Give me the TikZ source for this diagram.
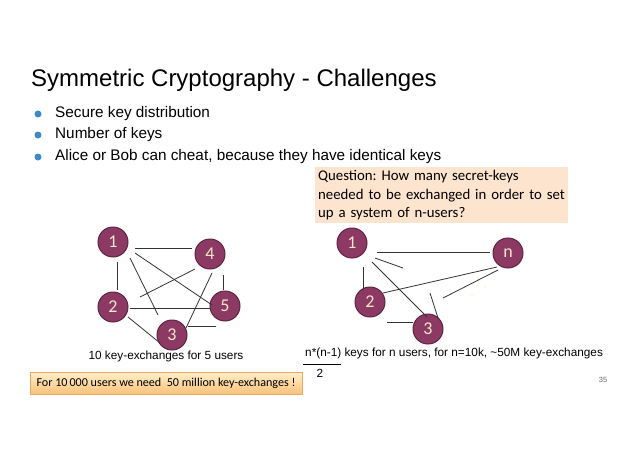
\documentclass[tikz,border=0pt]{standalone}
\usepackage{fontspec}
\setmainfont{Liberation Sans}
\newfontfamily\calfont{Carlito}
\frenchspacing
\definecolor{nodepurple}{HTML}{8C3A64}
\definecolor{nodeedge}{HTML}{5E2443}
\definecolor{nodetext}{HTML}{F5E6C8}
\definecolor{qbox}{HTML}{FCE4CF}
\definecolor{bullet}{HTML}{3C8BC8}
\definecolor{boxtop}{HTML}{FFEFC9}
\definecolor{boxbot}{HTML}{F9C27A}
\definecolor{boxedge}{HTML}{F0A860}
\begin{document}
\begin{tikzpicture}[x=1pt,y=-1pt,
  user/.style={circle,fill=nodepurple,draw=nodeedge,line width=1pt,minimum size=30pt,inner sep=0pt,text=nodetext,font=\calfont\fontsize{18}{18}\selectfont},
  edge/.style={line width=0.8pt,black!80},
  bul/.style={anchor=west,font=\fontsize{15.3}{17}\selectfont}]
\useasboundingbox (0,0) rectangle (638,451);
\fill[white] (0,0) rectangle (638,451);
\node[anchor=west,font=\fontsize{24}{26}\selectfont,inner sep=0pt] (title) at (31,80) {Symmetric Cryptography - Challenges};
\foreach \y/\t/\n in {114/Secure key distribution/b1,135/Number of keys/b2,157/{Alice or Bob can cheat, because they have identical keys}/b3}{
  \fill[bullet] (38,\y) circle (3.5pt);
  \node[bul,inner sep=0pt] (\n) at (55,\y) {\t};
}
\node[fill=qbox,anchor=north west,minimum width=253pt,minimum height=56pt,text width=247pt,align=left,inner sep=3pt,font=\calfont\fontsize{14.8}{18.5}\selectfont] (q) at (315,167) {Question: How many secret-keys\\ needed to be exchanged in order to set\\ up a system of n-users?};
% left graph
\node[user] (l1) at (113,242) {1};
\node[user] (l4) at (210,254) {4};
\node[user] (l2) at (113,307) {2};
\node[user] (l5) at (225,306) {5};
\node[user] (l3) at (172,335) {3};
\draw[edge] (135,248)--(192,248);
\draw[edge] (117,262)--(117,290);
\draw[edge] (135,253)--(212,305);
\draw[edge] (130,258)--(158,315);
\draw[edge] (195,269)--(140,297);
\draw[edge] (223,275)--(223,290);
\draw[edge] (130,308)--(210,308);
\draw[edge] (212,273)--(186,328);
\draw[edge] (188,326)--(216,326);
\draw[edge] (128,317)--(160,343);
\node[font=\fontsize{11.8}{13}\selectfont] (cap1) at (166,356) {10 key-exchanges for 5 users};
% right graph
\node[user] (r1) at (352,243) {1};
\node[user] (rn) at (508,253) {n};
\node[user] (r2) at (370,302) {2};
\node[user] (r3) at (428,329) {3};
\draw[edge] (377,252)--(490,252);
\draw[edge] (363,267)--(363,290);
\draw[edge] (375,258)--(403,268);
\draw[edge] (372,262)--(427,317);
\draw[edge] (383,293)--(497,267);
\draw[edge] (443,298)--(498,270);
\draw[edge] (430,293)--(438,318);
\draw[edge] (387,322)--(413,322);
\foreach \p in {(478,278),(485,287),(472,295)} \fill[yellow!40] \p circle (0.8pt);
\node[anchor=west,font=\fontsize{11.8}{13}\selectfont,inner sep=0pt] (cap2) at (305,353) {n*(n-1) keys for n users, for n=10k, \textasciitilde50M key-exchanges};
\draw[line width=0.6pt] (303,364)--(341,364);
\node[font=\fontsize{11.8}{13}\selectfont] (two) at (320,373) {2};
\node[font=\fontsize{7.5}{8}\selectfont,black!60] (pg) at (603,380) {35};
\shade[top color=boxtop,bottom color=boxbot,draw=boxedge] (30,372) rectangle (302,394);
\node[font=\calfont\fontsize{12.1}{13}\selectfont] (fn) at (166,383) {For 10\,000 users we need~~50 million key-exchanges !};
\end{tikzpicture}
\end{document}
